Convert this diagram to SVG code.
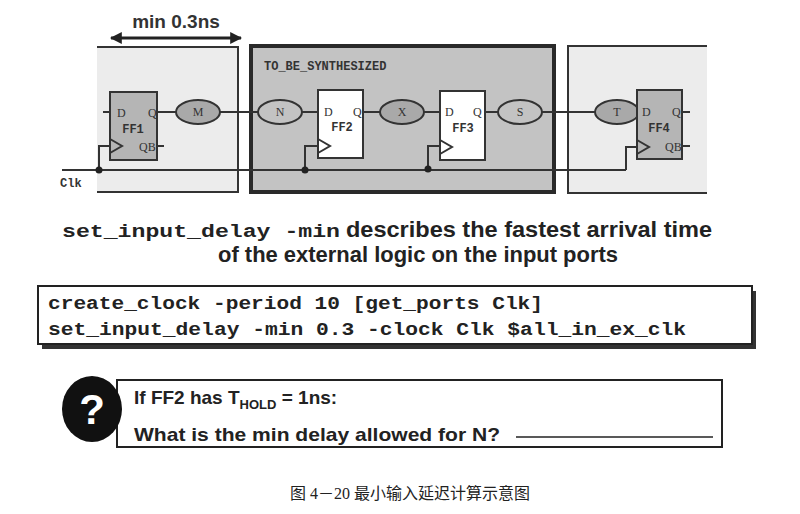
<svg xmlns="http://www.w3.org/2000/svg" width="800" height="514" viewBox="0 0 800 514">
<defs>
<style>
.w{stroke:#333;stroke-width:2;fill:none}
.ff{stroke:#333;stroke-width:2}
.el{fill:#a9a9a9;stroke:#333;stroke-width:2}
.pin{font-family:"Liberation Serif",serif;font-size:12px;fill:#333}
.ffl{font-family:"Liberation Mono",monospace;font-weight:bold;font-size:12px;fill:#333}
.mono{font-family:"Liberation Mono",monospace;font-weight:bold}
.sans{font-family:"Liberation Sans",Arial,sans-serif;font-weight:bold}
</style>
<marker id="ah" viewBox="0 0 10 10" refX="9" refY="5" markerWidth="4" markerHeight="4" orient="auto-start-reverse"><path d="M0,0L10,5L0,10z" fill="#222"/></marker>
</defs>
<rect width="800" height="514" fill="#fff"/>
<g id="leftbox">
<rect x="97" y="47" width="141" height="145" fill="#ececec"/>
<path d="M97,47H238V192H97" class="w"/>
</g>
<g id="rightbox">
<rect x="568" y="46" width="139" height="147" fill="#ececec"/>
<path d="M707,46H568V193H707" class="w"/>
</g>
<g id="synth">
<rect x="251" y="46" width="303" height="146" fill="#c3c3c3" stroke="#2a2a2a" stroke-width="4"/>
<text x="264" y="70" class="ffl" font-size="11">TO_BE_SYNTHESIZED</text>
</g>
<g id="dim">
<line x1="111" y1="38" x2="241" y2="38" stroke="#222" stroke-width="3" marker-start="url(#ah)" marker-end="url(#ah)"/>
<text x="176" y="28" class="sans" font-size="19" text-anchor="middle" fill="#333">min 0.3ns</text>
</g>
<g id="connectors">
<line x1="62" y1="170" x2="626" y2="170" class="w"/>
<path d="M110,146H99V170M318,146H305V170M440,146H428V170M637,147H626V170" class="w"/>
<circle cx="99" cy="170" r="3.5" fill="#222"/><circle cx="305" cy="170" r="3.5" fill="#222"/><circle cx="428" cy="169" r="3.5" fill="#222"/>
<path d="M157,112H176M220,112H258M302,112H318M363,112H380M424,112H440M485,112H498M542,112H595" class="w"/>
<path d="M103,112H110M682,112H690M682,146H690M157,146H164" class="w"/>
</g>
<text x="60" y="187" class="ffl" font-size="13">Clk</text>
<g id="FF1"><rect x="110" y="92" width="47" height="68" fill="#b5b5b5" class="ff"/><path d="M110,139L122,146L110,153" class="w"/>
<text x="117" y="117" class="pin">D</text><text x="148" y="117" class="pin">Q</text><text x="133" y="133" class="ffl" text-anchor="middle">FF1</text><text x="139" y="151" class="pin">QB</text></g>
<g id="M"><ellipse cx="198" cy="112" rx="22" ry="12" class="el"/><text x="198" y="116" class="pin" text-anchor="middle">M</text></g>
<g id="N"><ellipse cx="280" cy="112" rx="22" ry="12" fill="#c3c3c3" stroke="#333" stroke-width="2"/><text x="280" y="116" class="pin" text-anchor="middle">N</text></g>
<g id="FF2"><rect x="318" y="90" width="45" height="68" fill="#fff" class="ff"/><path d="M318,139L330,146L318,153" class="w"/>
<text x="324" y="116" class="pin">D</text><text x="353" y="116" class="pin">Q</text><text x="342" y="131" class="ffl" text-anchor="middle">FF2</text></g>
<g id="X"><ellipse cx="402" cy="112" rx="22" ry="12" class="el"/><text x="402" y="116" class="pin" text-anchor="middle">X</text></g>
<g id="FF3"><rect x="440" y="91" width="45" height="69" fill="#fff" class="ff"/><path d="M440,140L452,147L440,154" class="w"/>
<text x="445" y="116" class="pin">D</text><text x="473" y="116" class="pin">Q</text><text x="463" y="132" class="ffl" text-anchor="middle">FF3</text></g>
<g id="S"><ellipse cx="520" cy="112" rx="22" ry="12" fill="#c3c3c3" stroke="#333" stroke-width="2"/><text x="520" y="116" class="pin" text-anchor="middle">S</text></g>
<g id="T"><ellipse cx="617" cy="112" rx="22" ry="12" class="el"/><text x="617" y="116" class="pin" text-anchor="middle">T</text></g>
<g id="FF4"><rect x="637" y="90" width="45" height="69" fill="#b5b5b5" class="ff"/><path d="M637,140L649,147L637,154" class="w"/>
<text x="642" y="116" class="pin">D</text><text x="672" y="116" class="pin">Q</text><text x="659" y="132" class="ffl" text-anchor="middle">FF4</text><text x="665" y="151" class="pin">QB</text></g>
<g id="desc" fill="#222">
<text x="62" y="237" class="mono" font-size="19" textLength="278" lengthAdjust="spacingAndGlyphs">set_input_delay -min</text>
<text x="346" y="237" class="sans" font-size="22" textLength="366" lengthAdjust="spacingAndGlyphs">describes the fastest arrival time</text>
<text x="218" y="262" class="sans" font-size="22" textLength="400" lengthAdjust="spacingAndGlyphs">of the external logic on the input ports</text>
</g>
<g id="code">
<rect x="42" y="291" width="714" height="58" fill="#333"/>
<rect x="38" y="286" width="714" height="58" fill="#fff" stroke="#222" stroke-width="2"/>
<text x="48" y="309" class="mono" font-size="19" fill="#222" textLength="495" lengthAdjust="spacingAndGlyphs">create_clock -period 10 [get_ports Clk]</text>
<text x="48" y="335" class="mono" font-size="19" fill="#222" textLength="638" lengthAdjust="spacingAndGlyphs">set_input_delay -min 0.3 -clock Clk $all_in_ex_clk</text>
</g>
<g id="question">
<rect x="117" y="380" width="605" height="67" fill="#fff" stroke="#222" stroke-width="2"/>
<ellipse cx="92" cy="409" rx="30" ry="33" fill="#111"/>
<text x="92" y="424" class="sans" font-size="42" fill="#fff" text-anchor="middle">?</text>
<text x="134" y="404" class="sans" font-size="19" fill="#222">If FF2 has T<tspan font-size="13" dy="5">HOLD</tspan><tspan dy="-5"> = 1ns:</tspan></text>
<text x="134" y="441" class="sans" font-size="19" fill="#222" textLength="366" lengthAdjust="spacingAndGlyphs">What is the min delay allowed for N?</text>
<line x1="516" y1="437" x2="713" y2="437" stroke="#222" stroke-width="1.5"/>
</g>
<text x="410" y="499" font-family="Liberation Serif,'Noto Sans CJK SC',serif" font-size="16" fill="#222" text-anchor="middle">图 4－20  最小输入延迟计算示意图</text>
</svg>
